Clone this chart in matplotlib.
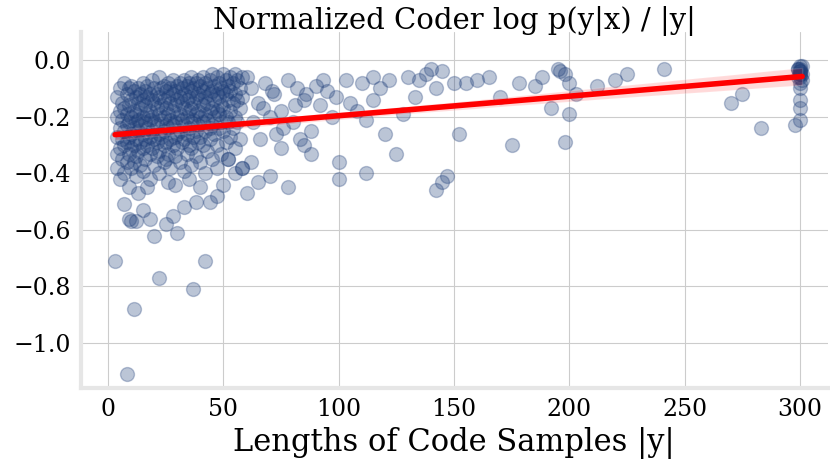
import matplotlib
matplotlib.use("Agg")
import matplotlib.pyplot as plt
import seaborn as sns
import numpy as np

# dense cluster: length -> list of normalized log-probs
cluster = {
 4:[-0.13,-0.2,-0.27,-0.33,-0.38], 5:[-0.1,-0.18,-0.24,-0.31,-0.42], 6:[-0.15,-0.21,-0.28,-0.35],
 7:[-0.08,-0.17,-0.25,-0.3,-0.4], 8:[-0.12,-0.19,-0.23,-0.29,-0.36], 9:[-0.1,-0.16,-0.22,-0.27,-0.33,-0.45],
 10:[-0.09,-0.14,-0.2,-0.26,-0.31,-0.38], 11:[-0.11,-0.18,-0.24,-0.3,-0.36], 12:[-0.13,-0.19,-0.22,-0.28,-0.34,-0.41],
 13:[-0.1,-0.15,-0.21,-0.25,-0.32], 14:[-0.12,-0.17,-0.23,-0.29,-0.37], 15:[-0.08,-0.14,-0.2,-0.26,-0.31,-0.39],
 16:[-0.11,-0.16,-0.22,-0.28,-0.35], 17:[-0.09,-0.13,-0.19,-0.24,-0.3], 18:[-0.12,-0.18,-0.21,-0.27,-0.33,-0.42],
 19:[-0.07,-0.14,-0.2,-0.25,-0.31], 20:[-0.1,-0.15,-0.22,-0.28,-0.37], 21:[-0.12,-0.17,-0.23,-0.29,-0.34],
 22:[-0.06,-0.13,-0.19,-0.26,-0.32,-0.4], 23:[-0.1,-0.16,-0.21,-0.27], 24:[-0.09,-0.14,-0.2,-0.25,-0.3,-0.36],
 25:[-0.11,-0.17,-0.23,-0.29,-0.35], 26:[-0.08,-0.13,-0.19,-0.24,-0.33], 27:[-0.1,-0.15,-0.21,-0.28,-0.38],
 28:[-0.07,-0.12,-0.18,-0.23,-0.3], 29:[-0.11,-0.16,-0.22,-0.27,-0.34,-0.44], 30:[-0.09,-0.14,-0.2,-0.26,-0.31],
 31:[-0.08,-0.13,-0.19,-0.25,-0.36], 32:[-0.1,-0.15,-0.21,-0.29], 33:[-0.07,-0.12,-0.17,-0.23,-0.28,-0.39],
 34:[-0.09,-0.14,-0.2,-0.26,-0.33], 35:[-0.08,-0.13,-0.18,-0.24,-0.3], 36:[-0.06,-0.11,-0.17,-0.22,-0.31,-0.37],
 37:[-0.1,-0.15,-0.21,-0.27], 38:[-0.08,-0.13,-0.19,-0.25,-0.34], 39:[-0.07,-0.12,-0.18,-0.23,-0.29],
 40:[-0.09,-0.14,-0.2,-0.27,-0.36], 41:[-0.06,-0.11,-0.16,-0.22,-0.3], 42:[-0.08,-0.13,-0.19,-0.25,-0.4],
 43:[-0.1,-0.15,-0.21,-0.32], 44:[-0.07,-0.12,-0.18,-0.24,-0.28], 45:[-0.05,-0.11,-0.17,-0.23,-0.35],
 46:[-0.09,-0.14,-0.2,-0.26], 47:[-0.06,-0.12,-0.18,-0.3,-0.38], 48:[-0.08,-0.13,-0.19,-0.24],
 49:[-0.1,-0.16,-0.22,-0.33], 50:[-0.05,-0.11,-0.17,-0.25], 51:[-0.07,-0.12,-0.2,-0.29],
 52:[-0.09,-0.14,-0.22,-0.35], 53:[-0.06,-0.11,-0.18,-0.27], 54:[-0.08,-0.15,-0.24], 55:[-0.05,-0.12,-0.2,-0.31],
 56:[-0.07,-0.14,-0.22], 57:[-0.1,-0.17,-0.28], 58:[-0.06,-0.13,-0.38],
}

outliers_x = [3, 8, 11, 22, 37, 42, 10, 12, 7, 9, 15, 20, 18, 25, 30, 28, 33, 38, 44, 47, 17, 13, 26, 35, 40,
              50, 55, 60, 65, 70, 78, 100, 100, 112, 142, 145, 147, 152, 175, 198, 125, 120, 88, 85, 75, 62, 58, 52]
outliers_y = [-0.71, -1.11, -0.88, -0.77, -0.81, -0.71, -0.57, -0.57, -0.51, -0.56, -0.53, -0.62, -0.56, -0.58,
              -0.61, -0.55, -0.52, -0.5, -0.5, -0.48, -0.45, -0.47, -0.43, -0.42, -0.45, -0.44, -0.4, -0.47,
              -0.43, -0.41, -0.45, -0.42, -0.36, -0.4, -0.46, -0.43, -0.41, -0.26, -0.3, -0.29, -0.33, -0.26,
              -0.33, -0.3, -0.31, -0.36, -0.38, -0.35]

mid_x = [62, 65, 68, 70, 72, 75, 78, 80, 82, 85, 88, 90, 92, 95, 97, 99, 105, 108, 112, 115, 128, 66, 73, 83,
         60, 63, 67, 71, 76, 81, 86, 93]
mid_y = [-0.1, -0.15, -0.08, -0.2, -0.12, -0.18, -0.07, -0.22, -0.1, -0.14, -0.25, -0.09, -0.16, -0.11, -0.2,
         -0.13, -0.15, -0.18, -0.21, -0.14, -0.19, -0.28, -0.26, -0.28, -0.06, -0.22, -0.17, -0.11, -0.24,
         -0.16, -0.12, -0.07]

high_x = [103, 110, 115, 118, 122, 130, 133, 138, 140, 142, 150, 155, 160, 165, 170, 185, 192, 195, 198, 200,
          200, 203, 220, 225, 241, 270, 275, 283,
          299, 300, 300, 300, 300, 300, 300, 300, 300, 298, 301,
          299, 300, 301, 300, 299, 300, 301, 300, 196, 188, 212, 178, 145, 135]
high_y = [-0.07, -0.08, -0.06, -0.1, -0.07, -0.06, -0.13, -0.05, -0.03, -0.1, -0.08, -0.08, -0.07, -0.06, -0.13,
          -0.09, -0.17, -0.03, -0.05, -0.08, -0.19, -0.12, -0.07, -0.05, -0.03, -0.15, -0.12, -0.24,
          -0.03, -0.04, -0.05, -0.06, -0.08, -0.1, -0.14, -0.17, -0.21, -0.23, -0.02,
          -0.03, -0.04, -0.05, -0.03, -0.06, -0.02, -0.07, -0.05, -0.04, -0.06, -0.09, -0.08, -0.04, -0.07]

x = []
y = []
for k, vals in cluster.items():
    x += [k] * len(vals)
    y += vals
x += outliers_x + mid_x + high_x
y += outliers_y + mid_y + high_y
x = np.array(x, float)
y = np.array(y, float)

sns.set_style("whitegrid")
plt.rcParams['font.family'] = ['DejaVu Serif']
plt.rcParams['text.color'] = 'black'
plt.rcParams['axes.labelcolor'] = 'black'
plt.rcParams['xtick.color'] = 'black'
plt.rcParams['ytick.color'] = 'black'
fig, ax = plt.subplots(figsize=(8.3, 4.69), dpi=100)
sns.regplot(x=x, y=y, ax=ax, seed=0,
            scatter_kws=dict(s=100, color='#1f3f7a', alpha=0.3, edgecolor='#1f3f7a', linewidths=1),
            line_kws=dict(color='red', lw=4))
ax.set_xlim(-12, 312)
ax.set_ylim(-1.16, 0.1)
ax.set_xticks([0, 50, 100, 150, 200, 250, 300])
ax.set_yticks([-1.0, -0.8, -0.6, -0.4, -0.2, 0.0])
ax.tick_params(labelsize=17)
ax.set_xlabel("Lengths of Code Samples |y|", fontsize=22)
ax.set_title("Normalized Coder log p(y|x) / |y|", fontsize=21, pad=2)
for s in ['top', 'right']:
    ax.spines[s].set_visible(False)
for s in ['left', 'bottom']:
    ax.spines[s].set_color('#e6e6e6')
    ax.spines[s].set_linewidth(3)
fig.subplots_adjust(left=0.097, right=0.997, top=0.932, bottom=0.172)
fig.savefig("out.png")
